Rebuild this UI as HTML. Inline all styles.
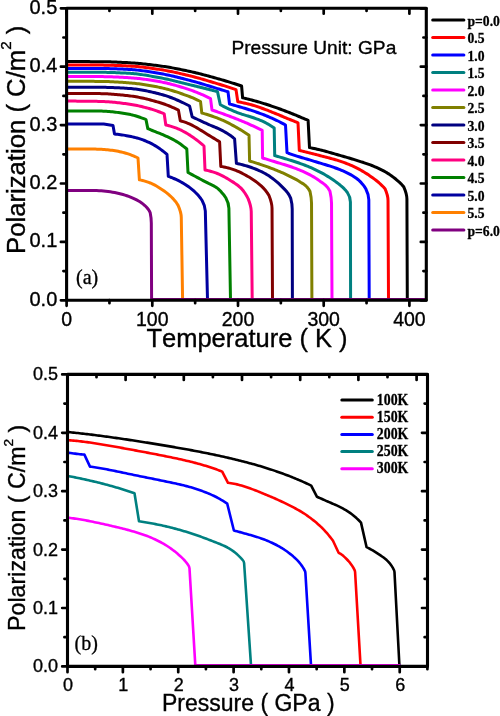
<!DOCTYPE html><html><head><meta charset="utf-8"><style>html,body{margin:0;padding:0;background:#fff;}svg{display:block;}text{font-kerning:none;}</style></head><body>
<svg width="500" height="716" viewBox="0 0 500 716">
<rect width="500" height="716" fill="#fff"/>
<g fill="none" stroke-width="3" stroke-linejoin="round" stroke-linecap="butt">
<path stroke="#000000" d="M66.6 61.6 L68.11 61.6 L69.62 61.6 L71.13 61.6 L72.63 61.6 L74.14 61.6 L75.65 61.6 L77.16 61.6 L78.67 61.6 L80.18 61.61 L81.69 61.61 L83.19 61.61 L84.7 61.61 L86.21 61.62 L87.72 61.62 L89.23 61.62 L90.74 61.63 L92.25 61.63 L93.76 61.63 L95.26 61.64 L96.77 61.64 L98.28 61.65 L99.79 61.65 L101.3 61.66 L102.81 61.67 L104.32 61.7 L105.82 61.73 L107.33 61.76 L108.84 61.8 L110.35 61.85 L111.86 61.9 L113.37 61.96 L114.88 62.02 L116.38 62.08 L117.89 62.15 L119.4 62.23 L120.91 62.3 L122.42 62.38 L123.93 62.46 L125.44 62.54 L126.94 62.62 L128.45 62.7 L129.96 62.79 L131.47 62.88 L132.98 62.98 L134.49 63.08 L136 63.2 L137.51 63.33 L139.01 63.46 L140.52 63.61 L142.03 63.75 L143.54 63.91 L145.05 64.07 L146.56 64.24 L148.07 64.42 L149.57 64.59 L151.08 64.78 L152.59 64.97 L154.1 65.16 L155.61 65.35 L157.12 65.55 L158.63 65.75 L160.13 65.95 L161.64 66.16 L163.15 66.37 L164.66 66.6 L166.17 66.84 L167.68 67.08 L169.19 67.34 L170.69 67.6 L172.2 67.87 L173.71 68.15 L175.22 68.43 L176.73 68.72 L178.24 69.02 L179.75 69.32 L181.26 69.62 L182.76 69.93 L184.27 70.25 L185.78 70.57 L187.29 70.89 L188.8 71.21 L190.31 71.54 L191.82 71.87 L193.32 72.21 L194.83 72.56 L196.34 72.92 L197.85 73.29 L199.36 73.66 L200.87 74.04 L202.38 74.43 L203.88 74.83 L205.39 75.23 L206.9 75.63 L208.41 76.04 L209.92 76.45 L211.43 76.87 L212.94 77.29 L214.44 77.72 L215.95 78.14 L217.46 78.57 L218.97 79 L220.48 79.43 L221.99 79.86 L223.5 80.3 L225.01 80.75 L226.51 81.2 L228.02 81.66 L229.53 82.12 L231.04 82.59 L232.55 83.07 L234.06 83.54 L235.57 84.03 L237.07 84.51 L238.58 85 L240.09 85.5 L241.6 86 L242.6 97.8 L244.12 98.15 L245.65 98.51 L247.17 98.88 L248.69 99.26 L250.22 99.64 L251.74 100.04 L253.26 100.45 L254.79 100.87 L256.31 101.29 L257.83 101.73 L259.36 102.18 L260.88 102.63 L262.4 103.09 L263.93 103.56 L265.45 104.04 L266.97 104.53 L268.5 105.02 L270.02 105.53 L271.54 106.05 L273.07 106.57 L274.59 107.1 L276.11 107.63 L277.63 108.17 L279.16 108.72 L280.68 109.28 L282.2 109.85 L283.73 110.42 L285.25 111 L286.77 111.58 L288.3 112.17 L289.82 112.77 L291.34 113.37 L292.87 113.99 L294.39 114.6 L295.91 115.23 L297.44 115.86 L298.96 116.49 L300.48 117.12 L302.01 117.77 L303.53 118.41 L305.05 119.07 L306.58 119.73 L308.1 120.4 L309.5 147.6 L311.02 147.9 L312.54 148.2 L314.07 148.52 L315.59 148.84 L317.11 149.18 L318.63 149.53 L320.15 149.88 L321.68 150.26 L323.2 150.65 L324.72 151.05 L326.24 151.46 L327.76 151.88 L329.28 152.32 L330.81 152.75 L332.33 153.2 L333.85 153.64 L335.37 154.09 L336.89 154.53 L338.42 154.98 L339.94 155.42 L341.46 155.85 L342.98 156.29 L344.5 156.73 L346.02 157.17 L347.55 157.61 L349.07 158.06 L350.59 158.51 L352.11 158.96 L353.63 159.43 L355.16 159.9 L356.68 160.37 L358.2 160.85 L359.72 161.33 L361.24 161.81 L362.77 162.3 L364.29 162.8 L365.81 163.3 L367.33 163.83 L368.85 164.37 L370.38 164.93 L371.9 165.52 L373.42 166.13 L374.94 166.77 L376.46 167.43 L377.98 168.13 L379.51 168.84 L381.03 169.59 L382.55 170.36 L384.07 171.17 L385.59 172.01 L387.12 172.91 L388.64 173.87 L390.16 174.89 L391.68 175.96 L393.2 177.09 L394.72 178.28 L396.25 179.53 L397.77 180.84 L399.29 182.16 L400.81 183.58 L402.33 185.2 L403.86 187.07 Q406.9 194 406.92 199 L407.3 299.5 L425 299.5"/>
<path stroke="#FF0000" d="M66.6 65.1 L68.11 65.1 L69.62 65.1 L71.14 65.1 L72.65 65.1 L74.16 65.1 L75.67 65.1 L77.19 65.1 L78.7 65.1 L80.21 65.1 L81.72 65.1 L83.24 65.1 L84.75 65.1 L86.26 65.1 L87.77 65.1 L89.29 65.1 L90.8 65.1 L92.31 65.1 L93.82 65.1 L95.34 65.1 L96.85 65.1 L98.36 65.1 L99.88 65.1 L101.39 65.1 L102.9 65.11 L104.41 65.13 L105.92 65.15 L107.44 65.18 L108.95 65.21 L110.46 65.25 L111.97 65.29 L113.49 65.34 L115 65.39 L116.51 65.44 L118.02 65.5 L119.54 65.56 L121.05 65.62 L122.56 65.69 L124.07 65.76 L125.59 65.83 L127.1 65.9 L128.61 65.98 L130.12 66.05 L131.64 66.13 L133.15 66.23 L134.66 66.34 L136.18 66.47 L137.69 66.61 L139.2 66.76 L140.71 66.92 L142.22 67.09 L143.74 67.27 L145.25 67.45 L146.76 67.65 L148.27 67.85 L149.79 68.06 L151.3 68.27 L152.81 68.49 L154.32 68.71 L155.84 68.93 L157.35 69.16 L158.86 69.38 L160.38 69.61 L161.89 69.85 L163.4 70.1 L164.91 70.36 L166.43 70.63 L167.94 70.92 L169.45 71.21 L170.96 71.51 L172.47 71.83 L173.99 72.15 L175.5 72.47 L177.01 72.81 L178.52 73.15 L180.04 73.49 L181.55 73.85 L183.06 74.2 L184.57 74.56 L186.09 74.92 L187.6 75.29 L189.11 75.65 L190.62 76.02 L192.14 76.4 L193.65 76.78 L195.16 77.18 L196.67 77.59 L198.19 78 L199.7 78.42 L201.21 78.85 L202.72 79.28 L204.24 79.72 L205.75 80.17 L207.26 80.62 L208.77 81.07 L210.29 81.53 L211.8 81.99 L213.31 82.45 L214.82 82.91 L216.34 83.37 L217.85 83.83 L219.36 84.29 L220.88 84.75 L222.39 85.22 L223.9 85.69 L225.41 86.16 L226.92 86.64 L228.44 87.13 L229.95 87.62 L231.46 88.11 L232.97 88.6 L234.49 89.1 L236 89.59 L237.8 101.8 L239.31 102.06 L240.81 102.34 L242.31 102.64 L243.82 102.96 L245.33 103.3 L246.83 103.65 L248.34 104.02 L249.84 104.4 L251.34 104.8 L252.85 105.21 L254.36 105.65 L255.86 106.13 L257.37 106.62 L258.87 107.14 L260.38 107.68 L261.88 108.22 L263.38 108.76 L264.89 109.31 L266.39 109.88 L267.9 110.46 L269.41 111.05 L270.91 111.66 L272.42 112.27 L273.92 112.88 L275.43 113.5 L276.93 114.11 L278.44 114.73 L279.94 115.36 L281.44 116 L282.95 116.63 L284.45 117.27 L285.96 117.9 L287.47 118.52 L288.97 119.14 L290.48 119.76 L291.98 120.37 L293.49 120.98 L294.99 121.59 L296.5 122.2 L298 122.8 L299.3 150.4 L300.8 150.76 L302.31 151.13 L303.81 151.49 L305.31 151.86 L306.82 152.24 L308.32 152.61 L309.82 152.99 L311.33 153.37 L312.83 153.75 L314.33 154.14 L315.84 154.53 L317.34 154.92 L318.84 155.31 L320.35 155.71 L321.85 156.1 L323.35 156.49 L324.86 156.88 L326.36 157.26 L327.86 157.65 L329.37 158.05 L330.87 158.45 L332.37 158.86 L333.88 159.28 L335.38 159.71 L336.88 160.16 L338.39 160.63 L339.89 161.11 L341.39 161.62 L342.9 162.14 L344.4 162.69 L345.91 163.25 L347.41 163.84 L348.91 164.45 L350.42 165.08 L351.92 165.73 L353.42 166.41 L354.93 167.11 L356.43 167.83 L357.93 168.59 L359.44 169.39 L360.94 170.22 L362.44 171.09 L363.95 171.99 L365.45 172.92 L366.95 173.88 L368.46 174.87 L369.96 175.89 L371.46 176.93 L372.97 178 L374.47 179.11 L375.97 180.26 L377.48 181.48 L378.98 182.76 L380.48 184.13 L381.99 185.57 L383.49 186.99 L384.99 188.66 Q388 195.5 388.02 200.5 L388.5 299.5 L425 299.5"/>
<path stroke="#0000FF" d="M66.6 68.5 L68.11 68.5 L69.62 68.5 L71.13 68.5 L72.63 68.5 L74.14 68.5 L75.65 68.5 L77.16 68.5 L78.67 68.5 L80.18 68.5 L81.68 68.5 L83.19 68.5 L84.7 68.5 L86.21 68.5 L87.72 68.5 L89.23 68.5 L90.73 68.5 L92.24 68.5 L93.75 68.5 L95.26 68.5 L96.77 68.5 L98.28 68.5 L99.79 68.5 L101.29 68.51 L102.8 68.51 L104.31 68.53 L105.82 68.55 L107.33 68.58 L108.84 68.62 L110.34 68.65 L111.85 68.7 L113.36 68.75 L114.87 68.8 L116.38 68.86 L117.89 68.92 L119.39 68.99 L120.9 69.05 L122.41 69.12 L123.92 69.2 L125.43 69.27 L126.94 69.35 L128.44 69.43 L129.95 69.51 L131.46 69.6 L132.97 69.71 L134.48 69.83 L135.99 69.97 L137.5 70.13 L139 70.29 L140.51 70.47 L142.02 70.67 L143.53 70.87 L145.04 71.08 L146.55 71.3 L148.05 71.53 L149.56 71.77 L151.07 72.01 L152.58 72.26 L154.09 72.51 L155.6 72.76 L157.1 73.01 L158.61 73.27 L160.12 73.52 L161.63 73.79 L163.14 74.06 L164.65 74.35 L166.16 74.66 L167.66 74.97 L169.17 75.3 L170.68 75.63 L172.19 75.97 L173.7 76.33 L175.21 76.69 L176.71 77.05 L178.22 77.43 L179.73 77.8 L181.24 78.19 L182.75 78.57 L184.26 78.96 L185.76 79.35 L187.27 79.74 L188.78 80.14 L190.29 80.53 L191.8 80.93 L193.31 81.34 L194.81 81.75 L196.32 82.18 L197.83 82.61 L199.34 83.05 L200.85 83.49 L202.36 83.94 L203.87 84.4 L205.37 84.86 L206.88 85.32 L208.39 85.78 L209.9 86.25 L211.41 86.71 L212.92 87.18 L214.42 87.64 L215.93 88.11 L217.44 88.57 L218.95 89.03 L220.46 89.49 L221.97 89.94 L223.47 90.4 L224.98 90.87 L226.49 91.33 L228 91.79 L229.5 104 L231.01 104.41 L232.53 104.82 L234.04 105.24 L235.55 105.66 L237.07 106.09 L238.58 106.52 L240.09 106.96 L241.61 107.41 L243.12 107.85 L244.64 108.3 L246.15 108.76 L247.66 109.23 L249.18 109.7 L250.69 110.18 L252.2 110.68 L253.72 111.18 L255.23 111.7 L256.74 112.22 L258.26 112.76 L259.77 113.3 L261.28 113.86 L262.8 114.43 L264.31 115.02 L265.82 115.62 L267.34 116.24 L268.85 116.88 L270.36 117.53 L271.88 118.19 L273.39 118.87 L274.91 119.57 L276.42 120.28 L277.93 121.01 L279.45 121.77 L280.96 122.55 L282.47 123.35 L283.99 124.17 L285.5 125 L287 152.61 L288.51 153.23 L290.03 153.81 L291.54 154.35 L293.06 154.86 L294.57 155.36 L296.09 155.85 L297.6 156.32 L299.12 156.79 L300.63 157.25 L302.15 157.7 L303.66 158.14 L305.18 158.58 L306.69 159.03 L308.21 159.47 L309.72 159.92 L311.24 160.37 L312.75 160.84 L314.27 161.31 L315.78 161.78 L317.3 162.26 L318.81 162.72 L320.33 163.18 L321.84 163.63 L323.36 164.08 L324.87 164.54 L326.39 165 L327.9 165.47 L329.41 165.94 L330.93 166.43 L332.44 166.93 L333.96 167.44 L335.47 167.98 L336.99 168.53 L338.5 169.11 L340.02 169.71 L341.53 170.34 L343.05 170.98 L344.56 171.64 L346.08 172.33 L347.59 173.05 L349.11 173.82 L350.62 174.63 L352.14 175.5 L353.65 176.43 L355.17 177.42 L356.68 178.5 L358.2 179.72 L359.71 181.1 L361.23 182.66 L362.74 184.4 L364.26 186.35 L365.77 188.76 Q368.8 194.8 368.82 199.8 L369.2 299.5 L425 299.5"/>
<path stroke="#008080" d="M66.6 72.31 L68.11 72.31 L69.62 72.31 L71.13 72.31 L72.64 72.31 L74.14 72.31 L75.65 72.31 L77.16 72.31 L78.67 72.31 L80.18 72.31 L81.69 72.31 L83.2 72.31 L84.71 72.31 L86.22 72.31 L87.73 72.31 L89.23 72.31 L90.74 72.31 L92.25 72.31 L93.76 72.31 L95.27 72.31 L96.78 72.31 L98.29 72.31 L99.8 72.31 L101.31 72.31 L102.82 72.32 L104.32 72.33 L105.83 72.36 L107.34 72.39 L108.85 72.42 L110.36 72.46 L111.87 72.51 L113.38 72.56 L114.89 72.61 L116.4 72.67 L117.91 72.74 L119.41 72.81 L120.92 72.88 L122.43 72.95 L123.94 73.03 L125.45 73.11 L126.96 73.19 L128.47 73.27 L129.98 73.36 L131.49 73.45 L133 73.57 L134.5 73.71 L136.01 73.86 L137.52 74.03 L139.03 74.22 L140.54 74.42 L142.05 74.64 L143.56 74.86 L145.07 75.1 L146.58 75.35 L148.09 75.6 L149.59 75.87 L151.1 76.13 L152.61 76.41 L154.12 76.68 L155.63 76.96 L157.14 77.23 L158.65 77.51 L160.16 77.78 L161.67 78.06 L163.18 78.36 L164.69 78.66 L166.19 78.98 L167.7 79.31 L169.21 79.65 L170.72 80 L172.23 80.36 L173.74 80.72 L175.25 81.09 L176.76 81.46 L178.27 81.84 L179.78 82.22 L181.28 82.6 L182.79 82.98 L184.3 83.36 L185.81 83.73 L187.32 84.11 L188.83 84.48 L190.34 84.84 L191.85 85.21 L193.36 85.58 L194.87 85.94 L196.37 86.31 L197.88 86.68 L199.39 87.05 L200.9 87.42 L202.41 87.8 L203.92 88.17 L205.43 88.55 L206.94 88.93 L208.45 89.31 L209.96 89.69 L211.46 90.07 L212.97 90.45 L214.48 90.83 L215.99 91.22 L217.5 91.6 L220.3 104.7 L221.84 105.52 L223.38 106.31 L224.92 107.09 L226.46 107.84 L228 108.57 L229.54 109.28 L231.08 109.98 L232.62 110.65 L234.16 111.29 L235.7 111.92 L237.24 112.53 L238.78 113.11 L240.32 113.67 L241.86 114.2 L243.4 114.68 L244.94 115.14 L246.48 115.58 L248.02 116.03 L249.56 116.49 L251.1 116.98 L252.64 117.5 L254.18 118.03 L255.72 118.58 L257.26 119.14 L258.8 119.72 L260.34 120.33 L261.88 120.98 L263.42 121.67 L264.96 122.41 L266.5 123.21 L268.04 124.07 L269.58 124.98 L271.12 125.95 L272.66 126.96 L274.2 128 L274.7 155.6 L276.21 156.04 L277.73 156.48 L279.24 156.92 L280.76 157.36 L282.27 157.8 L283.78 158.24 L285.3 158.69 L286.81 159.14 L288.33 159.59 L289.84 160.07 L291.35 160.55 L292.87 161.03 L294.38 161.52 L295.9 162.02 L297.41 162.53 L298.92 163.04 L300.44 163.57 L301.95 164.12 L303.47 164.68 L304.98 165.26 L306.49 165.85 L308.01 166.47 L309.52 167.1 L311.04 167.74 L312.55 168.41 L314.06 169.1 L315.58 169.81 L317.09 170.54 L318.61 171.29 L320.12 172.06 L321.63 172.86 L323.15 173.69 L324.66 174.55 L326.18 175.43 L327.69 176.35 L329.2 177.29 L330.72 178.27 L332.23 179.27 L333.75 180.31 L335.26 181.39 L336.77 182.48 L338.29 183.62 L339.8 184.8 L341.32 186.07 L342.83 187.43 L344.34 188.91 L345.86 190.57 L347.37 192.52 Q350.4 197 350.41 202 L350.6 299.5 L425 299.5"/>
<path stroke="#FF00FF" d="M66.6 76.6 L68.11 76.6 L69.63 76.6 L71.14 76.6 L72.66 76.6 L74.17 76.6 L75.69 76.6 L77.2 76.6 L78.72 76.6 L80.23 76.6 L81.75 76.6 L83.26 76.6 L84.78 76.6 L86.29 76.6 L87.81 76.6 L89.32 76.6 L90.84 76.6 L92.35 76.6 L93.87 76.6 L95.38 76.6 L96.89 76.6 L98.41 76.6 L99.92 76.6 L101.44 76.6 L102.95 76.62 L104.47 76.64 L105.98 76.66 L107.5 76.7 L109.01 76.74 L110.53 76.79 L112.04 76.84 L113.56 76.9 L115.07 76.97 L116.59 77.04 L118.1 77.11 L119.62 77.19 L121.13 77.27 L122.65 77.35 L124.16 77.44 L125.67 77.52 L127.19 77.61 L128.7 77.7 L130.22 77.8 L131.73 77.9 L133.25 78.01 L134.76 78.14 L136.28 78.29 L137.79 78.44 L139.31 78.61 L140.82 78.78 L142.34 78.97 L143.85 79.17 L145.37 79.38 L146.88 79.59 L148.4 79.82 L149.91 80.05 L151.43 80.29 L152.94 80.53 L154.45 80.78 L155.97 81.04 L157.48 81.3 L159 81.57 L160.51 81.84 L162.03 82.12 L163.54 82.42 L165.06 82.74 L166.57 83.08 L168.09 83.43 L169.6 83.8 L171.12 84.18 L172.63 84.58 L174.15 84.99 L175.66 85.41 L177.18 85.84 L178.69 86.29 L180.21 86.74 L181.72 87.2 L183.23 87.68 L184.75 88.16 L186.26 88.65 L187.78 89.14 L189.29 89.64 L190.81 90.15 L192.32 90.68 L193.84 91.24 L195.35 91.81 L196.87 92.41 L198.38 93.03 L199.9 93.66 L201.41 94.31 L202.93 94.98 L204.44 95.66 L205.96 96.35 L207.47 97.06 L208.99 97.77 L210.5 98.5 L212 110 L213.52 110.51 L215.04 111.02 L216.56 111.54 L218.08 112.07 L219.61 112.61 L221.13 113.15 L222.65 113.7 L224.17 114.25 L225.69 114.81 L227.21 115.37 L228.73 115.93 L230.25 116.5 L231.78 117.07 L233.3 117.65 L234.82 118.24 L236.34 118.84 L237.86 119.44 L239.38 120.05 L240.9 120.66 L242.42 121.29 L243.95 121.93 L245.47 122.58 L246.99 123.24 L248.51 123.91 L250.03 124.59 L251.55 125.28 L253.07 125.97 L254.59 126.68 L256.12 127.4 L257.64 128.14 L259.16 128.88 L260.68 129.63 L262.2 130.4 L262.6 158 L264.13 158.47 L265.66 158.93 L267.19 159.4 L268.72 159.87 L270.26 160.34 L271.79 160.81 L273.32 161.28 L274.85 161.76 L276.38 162.23 L277.91 162.7 L279.44 163.17 L280.97 163.64 L282.5 164.11 L284.04 164.56 L285.57 165.03 L287.1 165.5 L288.63 165.99 L290.16 166.51 L291.69 167.04 L293.22 167.59 L294.75 168.14 L296.28 168.71 L297.82 169.3 L299.35 169.91 L300.88 170.54 L302.41 171.2 L303.94 171.89 L305.47 172.6 L307 173.34 L308.53 174.11 L310.06 174.91 L311.6 175.74 L313.13 176.61 L314.66 177.54 L316.19 178.51 L317.72 179.54 L319.25 180.64 L320.78 181.77 L322.31 182.82 L323.84 183.89 L325.38 185.13 L326.91 186.69 L328.44 188.71 L329.97 191.34 Q331.5 198 331.52 203 L332 299.5 L425 299.5"/>
<path stroke="#808000" d="M66.6 81.3 L68.1 81.3 L69.61 81.3 L71.11 81.3 L72.62 81.3 L74.12 81.3 L75.63 81.31 L77.13 81.31 L78.64 81.31 L80.14 81.32 L81.64 81.32 L83.15 81.33 L84.65 81.33 L86.16 81.34 L87.66 81.34 L89.17 81.35 L90.67 81.36 L92.18 81.37 L93.68 81.37 L95.19 81.38 L96.69 81.39 L98.19 81.4 L99.7 81.41 L101.2 81.42 L102.71 81.44 L104.21 81.47 L105.72 81.51 L107.22 81.56 L108.73 81.61 L110.23 81.67 L111.73 81.74 L113.24 81.81 L114.74 81.89 L116.25 81.98 L117.75 82.06 L119.26 82.16 L120.76 82.26 L122.27 82.36 L123.77 82.46 L125.28 82.57 L126.78 82.68 L128.28 82.79 L129.79 82.9 L131.29 83.02 L132.8 83.15 L134.3 83.3 L135.81 83.46 L137.31 83.64 L138.82 83.82 L140.32 84.02 L141.82 84.23 L143.33 84.45 L144.83 84.68 L146.34 84.92 L147.84 85.18 L149.35 85.43 L150.85 85.7 L152.36 85.98 L153.86 86.26 L155.37 86.55 L156.87 86.84 L158.37 87.14 L159.88 87.44 L161.38 87.76 L162.89 88.1 L164.39 88.45 L165.9 88.83 L167.4 89.23 L168.91 89.64 L170.41 90.07 L171.91 90.51 L173.42 90.97 L174.92 91.45 L176.43 91.94 L177.93 92.44 L179.44 92.95 L180.94 93.47 L182.45 94 L183.95 94.54 L185.46 95.09 L186.96 95.65 L188.46 96.21 L189.97 96.77 L191.47 97.36 L192.98 97.99 L194.48 98.65 L195.99 99.34 L197.49 100.05 L199 100.77 L200.5 101.5 L201.8 113 L203.32 113.39 L204.85 113.82 L206.37 114.26 L207.89 114.73 L209.41 115.22 L210.94 115.73 L212.46 116.26 L213.98 116.81 L215.5 117.37 L217.03 117.96 L218.55 118.56 L220.07 119.17 L221.59 119.81 L223.12 120.48 L224.64 121.18 L226.16 121.91 L227.68 122.66 L229.21 123.44 L230.73 124.24 L232.25 125.06 L233.77 125.9 L235.3 126.75 L236.82 127.62 L238.34 128.5 L239.86 129.39 L241.39 130.3 L242.91 131.2 L244.43 132.15 L245.95 133.14 L247.48 134.17 L249 135.22 L249.6 161 L251.11 161.45 L252.62 161.9 L254.13 162.37 L255.64 162.84 L257.15 163.31 L258.66 163.79 L260.17 164.3 L261.68 164.81 L263.19 165.33 L264.7 165.86 L266.21 166.4 L267.72 166.94 L269.23 167.5 L270.74 168.06 L272.25 168.63 L273.76 169.21 L275.27 169.8 L276.78 170.41 L278.29 171.02 L279.8 171.65 L281.3 172.29 L282.81 172.95 L284.32 173.64 L285.83 174.35 L287.34 175.07 L288.85 175.81 L290.36 176.56 L291.87 177.3 L293.38 178.03 L294.89 178.79 L296.4 179.59 L297.91 180.45 L299.42 181.4 L300.93 182.41 L302.44 183.36 L303.95 184.34 L305.46 185.5 L306.97 186.98 L308.48 188.89 L309.99 191.38 Q311.5 198 311.52 203 L311.9 299.5 L425 299.5"/>
<path stroke="#000080" d="M66.6 87.3 L68.1 87.3 L69.6 87.3 L71.1 87.3 L72.6 87.3 L74.1 87.3 L75.6 87.3 L77.1 87.3 L78.6 87.3 L80.1 87.3 L81.6 87.3 L83.1 87.3 L84.6 87.3 L86.1 87.3 L87.6 87.3 L89.1 87.3 L90.6 87.3 L92.1 87.3 L93.6 87.3 L95.1 87.3 L96.6 87.3 L98.1 87.3 L99.6 87.3 L101.1 87.31 L102.6 87.32 L104.1 87.33 L105.6 87.36 L107.1 87.39 L108.6 87.43 L110.1 87.48 L111.6 87.53 L113.1 87.58 L114.6 87.65 L116.1 87.71 L117.6 87.79 L119.1 87.86 L120.6 87.94 L122.1 88.03 L123.6 88.12 L125.1 88.21 L126.6 88.3 L128.1 88.4 L129.6 88.5 L131.1 88.61 L132.6 88.73 L134.1 88.89 L135.6 89.06 L137.1 89.26 L138.6 89.47 L140.1 89.71 L141.6 89.96 L143.1 90.23 L144.6 90.51 L146.1 90.81 L147.6 91.12 L149.1 91.44 L150.6 91.77 L152.1 92.12 L153.6 92.47 L155.1 92.83 L156.6 93.2 L158.1 93.57 L159.6 93.95 L161.1 94.33 L162.6 94.75 L164.1 95.19 L165.6 95.66 L167.1 96.15 L168.6 96.67 L170.1 97.22 L171.6 97.78 L173.1 98.37 L174.6 98.98 L176.1 99.61 L177.6 100.25 L179.1 100.92 L180.6 101.6 L182.1 102.3 L183.6 103.01 L185.1 103.74 L186.6 104.48 L188.1 105.24 L189.6 106 L192.2 116.8 L193.71 117.54 L195.23 118.28 L196.74 119 L198.26 119.73 L199.77 120.44 L201.29 121.15 L202.8 121.85 L204.31 122.54 L205.83 123.23 L207.34 123.91 L208.86 124.59 L210.37 125.25 L211.89 125.88 L213.4 126.5 L214.91 127.11 L216.43 127.74 L217.94 128.4 L219.46 129.11 L220.97 129.88 L222.49 130.68 L224 131.52 L225.51 132.4 L227.03 133.32 L228.54 134.28 L230.06 135.29 L231.57 136.35 L233.09 137.54 L234.6 138.81 L236.4 163.4 L237.91 163.7 L239.42 164.04 L240.92 164.39 L242.43 164.78 L243.94 165.18 L245.45 165.61 L246.96 166.06 L248.46 166.53 L249.97 167.02 L251.48 167.54 L252.99 168.08 L254.5 168.66 L256.01 169.26 L257.51 169.89 L259.02 170.55 L260.53 171.25 L262.04 171.97 L263.55 172.73 L265.05 173.53 L266.56 174.41 L268.07 175.35 L269.58 176.35 L271.09 177.41 L272.59 178.52 L274.1 179.67 L275.61 180.86 L277.12 182.1 L278.63 183.44 L280.14 184.86 L281.64 186.35 L283.15 187.88 L284.66 189.38 L286.17 190.99 L287.68 192.88 L289.18 195.17 L290.69 198.23 Q292.2 204 292.21 209 L292.4 299.5 L425 299.5"/>
<path stroke="#800000" d="M66.6 93.39 L68.11 93.39 L69.62 93.39 L71.13 93.4 L72.64 93.4 L74.15 93.4 L75.66 93.41 L77.18 93.42 L78.69 93.42 L80.2 93.43 L81.71 93.44 L83.22 93.45 L84.73 93.46 L86.24 93.47 L87.75 93.48 L89.26 93.5 L90.77 93.51 L92.28 93.53 L93.79 93.54 L95.31 93.56 L96.82 93.57 L98.33 93.59 L99.84 93.61 L101.35 93.63 L102.86 93.67 L104.37 93.72 L105.88 93.78 L107.39 93.86 L108.9 93.94 L110.41 94.04 L111.92 94.14 L113.44 94.26 L114.95 94.38 L116.46 94.51 L117.97 94.65 L119.48 94.79 L120.99 94.94 L122.5 95.1 L124.01 95.26 L125.52 95.42 L127.03 95.59 L128.54 95.76 L130.05 95.93 L131.56 96.12 L133.08 96.32 L134.59 96.55 L136.1 96.8 L137.61 97.07 L139.12 97.36 L140.63 97.66 L142.14 97.98 L143.65 98.31 L145.16 98.66 L146.67 99.03 L148.18 99.4 L149.69 99.79 L151.21 100.19 L152.72 100.6 L154.23 101.01 L155.74 101.44 L157.25 101.87 L158.76 102.31 L160.27 102.75 L161.78 103.22 L163.29 103.72 L164.8 104.25 L166.31 104.81 L167.82 105.39 L169.34 106 L170.85 106.63 L172.36 107.28 L173.87 107.94 L175.38 108.62 L176.89 109.31 L178.4 110.01 L180.3 120.8 L181.81 121.2 L183.32 121.65 L184.83 122.15 L186.35 122.7 L187.86 123.28 L189.37 123.92 L190.88 124.63 L192.39 125.4 L193.9 126.21 L195.42 127.06 L196.93 127.92 L198.44 128.79 L199.95 129.68 L201.46 130.61 L202.97 131.57 L204.48 132.54 L206 133.5 L207.51 134.44 L209.02 135.37 L210.53 136.3 L212.04 137.23 L213.55 138.15 L215.07 139.07 L216.58 139.98 L218.09 140.89 L219.6 141.8 L220.8 166.41 L222.31 166.64 L223.81 166.92 L225.32 167.24 L226.82 167.6 L228.33 167.99 L229.84 168.41 L231.34 168.85 L232.85 169.32 L234.35 169.85 L235.86 170.43 L237.36 171.05 L238.87 171.73 L240.38 172.44 L241.88 173.19 L243.39 173.97 L244.89 174.78 L246.4 175.61 L247.91 176.46 L249.41 177.32 L250.92 178.23 L252.42 179.18 L253.93 180.18 L255.44 181.24 L256.94 182.36 L258.45 183.56 L259.95 184.84 L261.46 186.2 L262.96 187.64 L264.47 189.23 L265.98 191.02 L267.48 193.1 L268.99 195.53 Q272 203.2 272.03 208.2 L272.5 299.5 L425 299.5"/>
<path stroke="#FF0080" d="M66.6 101.09 L68.1 101.09 L69.6 101.09 L71.1 101.1 L72.61 101.1 L74.11 101.11 L75.61 101.12 L77.11 101.13 L78.61 101.14 L80.11 101.15 L81.62 101.17 L83.12 101.18 L84.62 101.2 L86.12 101.21 L87.62 101.23 L89.12 101.25 L90.62 101.27 L92.13 101.3 L93.63 101.32 L95.13 101.34 L96.63 101.37 L98.13 101.39 L99.63 101.42 L101.14 101.45 L102.64 101.5 L104.14 101.56 L105.64 101.64 L107.14 101.73 L108.64 101.83 L110.14 101.95 L111.65 102.07 L113.15 102.21 L114.65 102.36 L116.15 102.51 L117.65 102.68 L119.15 102.85 L120.66 103.02 L122.16 103.21 L123.66 103.4 L125.16 103.59 L126.66 103.79 L128.16 103.99 L129.66 104.2 L131.17 104.41 L132.67 104.65 L134.17 104.92 L135.67 105.21 L137.17 105.52 L138.67 105.85 L140.18 106.2 L141.68 106.56 L143.18 106.94 L144.68 107.33 L146.18 107.73 L147.68 108.14 L149.18 108.56 L150.69 108.98 L152.19 109.43 L153.69 109.91 L155.19 110.41 L156.69 110.93 L158.19 111.47 L159.7 112.03 L161.2 112.61 L162.7 113.2 L164.2 113.81 L165.8 125 L167.33 125.33 L168.86 125.71 L170.38 126.14 L171.91 126.6 L173.44 127.1 L174.97 127.63 L176.5 128.19 L178.02 128.8 L179.55 129.48 L181.08 130.21 L182.61 130.99 L184.14 131.8 L185.66 132.65 L187.19 133.52 L188.72 134.43 L190.25 135.39 L191.78 136.41 L193.3 137.47 L194.83 138.59 L196.36 139.73 L197.89 140.9 L199.42 142.09 L200.94 143.34 L202.47 144.65 L204 146 L205 170.01 L206.54 170.3 L208.08 170.63 L209.62 171.02 L211.16 171.45 L212.7 171.91 L214.24 172.41 L215.78 172.94 L217.32 173.51 L218.86 174.14 L220.4 174.84 L221.94 175.58 L223.48 176.38 L225.02 177.23 L226.56 178.11 L228.1 179.02 L229.64 179.96 L231.18 180.92 L232.72 181.89 L234.26 182.88 L235.8 183.92 L237.34 185.03 L238.88 186.26 L240.42 187.63 L241.96 189.18 L243.5 191.04 L245.04 193.25 L246.58 195.79 L248.12 198.64 Q251.2 206.4 251.25 211.4 L252.2 299.5 L425 299.5"/>
<path stroke="#008000" d="M66.6 111.1 L68.13 111.1 L69.65 111.1 L71.18 111.1 L72.71 111.1 L74.23 111.1 L75.76 111.1 L77.29 111.1 L78.82 111.1 L80.34 111.1 L81.87 111.1 L83.4 111.1 L84.92 111.1 L86.45 111.1 L87.98 111.1 L89.5 111.1 L91.03 111.1 L92.56 111.1 L94.08 111.1 L95.61 111.1 L97.14 111.1 L98.67 111.1 L100.19 111.1 L101.72 111.12 L103.25 111.16 L104.77 111.22 L106.3 111.3 L107.83 111.41 L109.35 111.53 L110.88 111.67 L112.41 111.83 L113.93 112 L115.46 112.18 L116.99 112.38 L118.52 112.6 L120.04 112.82 L121.57 113.05 L123.1 113.29 L124.62 113.54 L126.15 113.79 L127.68 114.05 L129.2 114.31 L130.73 114.59 L132.26 114.93 L133.78 115.33 L135.31 115.79 L136.84 116.27 L138.37 116.78 L139.89 117.29 L141.42 117.81 L142.95 118.38 L144.47 118.97 L146 119.6 L147.8 128.6 L149.3 129.24 L150.8 129.87 L152.3 130.49 L153.8 131.1 L155.3 131.7 L156.8 132.28 L158.3 132.87 L159.8 133.46 L161.3 134.07 L162.8 134.7 L164.3 135.36 L165.8 136.03 L167.3 136.71 L168.8 137.41 L170.3 138.13 L171.8 138.88 L173.3 139.67 L174.8 140.49 L176.3 141.36 L177.8 142.3 L179.3 143.29 L180.8 144.34 L182.3 145.44 L183.8 146.58 L185.3 147.77 L186.8 149 L188 172.4 L189.51 173.24 L191.02 174.07 L192.53 174.9 L194.04 175.73 L195.56 176.55 L197.07 177.36 L198.58 178.17 L200.09 178.98 L201.6 179.78 L203.11 180.58 L204.62 181.37 L206.13 182.16 L207.64 182.95 L209.16 183.72 L210.67 184.42 L212.18 185.11 L213.69 185.85 L215.2 186.69 L216.71 187.7 L218.22 188.92 L219.73 190.33 L221.24 191.91 L222.76 193.66 L224.27 195.55 L225.78 197.78 Q228.8 203.2 228.89 208.2 L230.5 299.5 L425 299.5"/>
<path stroke="#0000A0" d="M66.6 123.9 L68.15 123.9 L69.69 123.9 L71.24 123.9 L72.79 123.9 L74.33 123.9 L75.88 123.9 L77.43 123.9 L78.97 123.9 L80.52 123.9 L82.07 123.9 L83.61 123.9 L85.16 123.9 L86.71 123.9 L88.25 123.9 L89.8 123.9 L91.35 123.9 L92.89 123.9 L94.44 123.9 L95.99 123.9 L97.53 123.9 L99.08 123.9 L100.63 123.91 L102.17 123.98 L103.72 124.11 L105.27 124.3 L106.81 124.53 L108.36 124.78 L109.91 125.06 L111.45 125.33 L113 125.6 L114.5 134 L116 134.14 L117.5 134.3 L119 134.48 L120.5 134.68 L122 134.9 L123.5 135.14 L125 135.39 L126.5 135.66 L128 135.93 L129.5 136.21 L131 136.51 L132.5 136.84 L134 137.19 L135.5 137.58 L137 137.99 L138.5 138.43 L140 138.9 L141.5 139.39 L143 139.93 L144.5 140.51 L146 141.12 L147.5 141.77 L149 142.46 L150.5 143.18 L152 143.93 L153.5 144.74 L155 145.61 L156.5 146.54 L158 147.53 L159.5 148.56 L161 149.63 L162.5 150.74 L164 151.87 L165.5 153.09 L167 154.4 L168.3 176.4 L169.84 176.92 L171.38 177.48 L172.91 178.09 L174.45 178.75 L175.99 179.44 L177.53 180.17 L179.06 180.93 L180.6 181.74 L182.14 182.6 L183.68 183.5 L185.21 184.45 L186.75 185.46 L188.29 186.53 L189.82 187.65 L191.36 188.84 L192.9 190.11 L194.44 191.48 L195.97 192.96 L197.51 194.57 L199.05 196.33 L200.59 198.24 L202.12 200.52 Q205.2 206 205.32 211 L207.5 299.5 L425 299.5"/>
<path stroke="#FF8000" d="M66.6 149 L68.12 149 L69.64 149 L71.16 149 L72.68 149 L74.2 149 L75.71 149 L77.23 149 L78.75 149 L80.27 149 L81.79 149 L83.31 149 L84.83 149 L86.35 149 L87.87 149 L89.39 149 L90.91 149 L92.43 149.02 L93.94 149.06 L95.46 149.1 L96.98 149.16 L98.5 149.22 L100.02 149.29 L101.54 149.37 L103.06 149.45 L104.58 149.55 L106.1 149.68 L107.62 149.83 L109.14 149.99 L110.66 150.17 L112.17 150.36 L113.69 150.57 L115.21 150.79 L116.73 151.05 L118.25 151.34 L119.77 151.66 L121.29 152.01 L122.81 152.39 L124.33 152.78 L125.85 153.19 L127.37 153.64 L128.89 154.14 L130.4 154.69 L131.92 155.28 L133.44 155.89 L134.96 156.54 L136.48 157.25 L138 158 L139.4 179.8 L140.95 180.1 L142.5 180.46 L144.04 180.88 L145.59 181.35 L147.14 181.86 L148.69 182.41 L150.24 182.99 L151.79 183.64 L153.33 184.37 L154.88 185.17 L156.43 186.04 L157.98 186.96 L159.53 187.92 L161.07 188.91 L162.62 189.93 L164.17 191 L165.72 192.13 L167.27 193.33 L168.81 194.62 L170.36 196.01 L171.91 197.51 L173.46 199.12 L175.01 200.92 L176.56 202.97 L178.1 205.37 Q181.2 212.4 181.28 217.4 L182.6 299.5 L425 299.5"/>
<path stroke="#800080" d="M66.6 190.5 L92 190.5 L94.33 190.52 L96.65 190.58 L98.97 190.69 L101.28 190.84 L103.57 191.03 L105.84 191.26 L108.1 191.53 L110.32 191.85 L112.52 192.2 L114.69 192.59 L116.83 193.03 L118.92 193.5 L120.98 194.01 L122.98 194.55 L124.95 195.13 L126.86 195.75 L128.71 196.4 L130.51 197.09 L132.25 197.81 L133.93 198.55 L135.55 199.33 L137.09 200.14 L138.57 200.97 L139.97 201.84 L141.31 202.72 L142.56 203.63 L143.74 204.56 L144.84 205.52 L145.85 206.49 L146.79 207.48 L147.63 208.48 L148.4 209.5 L149.07 210.54 L149.66 211.58 L150.16 212.64 Q151.3 218 151.32 223 L151.6 299.5 L425 299.5"/>
</g>
<g fill="none" stroke-width="2.6" stroke-linejoin="round" stroke-linecap="butt">
<path stroke="#000000" d="M67.4 431.99 L68.9 432.13 L70.41 432.28 L71.91 432.44 L73.42 432.6 L74.92 432.76 L76.43 432.92 L77.93 433.08 L79.44 433.25 L80.94 433.42 L82.45 433.59 L83.95 433.76 L85.46 433.93 L86.96 434.11 L88.47 434.29 L89.97 434.48 L91.48 434.66 L92.98 434.85 L94.49 435.04 L95.99 435.23 L97.5 435.43 L99 435.62 L100.51 435.82 L102.01 436.02 L103.52 436.22 L105.02 436.42 L106.53 436.62 L108.03 436.83 L109.54 437.04 L111.04 437.25 L112.55 437.46 L114.05 437.67 L115.56 437.88 L117.06 438.1 L118.57 438.31 L120.07 438.53 L121.58 438.75 L123.08 438.97 L124.59 439.19 L126.09 439.41 L127.6 439.64 L129.1 439.86 L130.61 440.09 L132.11 440.32 L133.62 440.54 L135.12 440.77 L136.63 441 L138.13 441.24 L139.64 441.47 L141.14 441.7 L142.65 441.94 L144.15 442.17 L145.66 442.41 L147.16 442.65 L148.67 442.89 L150.17 443.13 L151.68 443.37 L153.18 443.62 L154.69 443.86 L156.19 444.11 L157.7 444.35 L159.2 444.6 L160.71 444.85 L162.21 445.1 L163.72 445.35 L165.22 445.6 L166.73 445.86 L168.23 446.11 L169.74 446.37 L171.24 446.63 L172.75 446.89 L174.25 447.15 L175.76 447.41 L177.26 447.67 L178.77 447.94 L180.27 448.21 L181.78 448.47 L183.28 448.75 L184.79 449.02 L186.29 449.29 L187.8 449.57 L189.3 449.84 L190.8 450.12 L192.31 450.4 L193.81 450.68 L195.32 450.97 L196.82 451.25 L198.33 451.54 L199.83 451.84 L201.34 452.13 L202.84 452.42 L204.35 452.72 L205.85 453.02 L207.36 453.32 L208.86 453.63 L210.37 453.94 L211.87 454.25 L213.38 454.56 L214.88 454.88 L216.39 455.2 L217.89 455.52 L219.4 455.84 L220.9 456.17 L222.41 456.5 L223.91 456.84 L225.42 457.18 L226.92 457.52 L228.43 457.86 L229.93 458.21 L231.44 458.57 L232.94 458.92 L234.45 459.28 L235.95 459.65 L237.46 460.02 L238.96 460.39 L240.47 460.76 L241.97 461.15 L243.48 461.53 L244.98 461.92 L246.49 462.32 L247.99 462.72 L249.5 463.13 L251 463.54 L252.51 463.95 L254.01 464.37 L255.52 464.8 L257.02 465.23 L258.53 465.67 L260.03 466.11 L261.54 466.56 L263.04 467.02 L264.55 467.48 L266.05 467.94 L267.56 468.42 L269.06 468.9 L270.57 469.39 L272.07 469.88 L273.58 470.38 L275.08 470.89 L276.59 471.41 L278.09 471.93 L279.6 472.46 L281.1 473 L282.61 473.54 L284.11 474.1 L285.62 474.66 L287.12 475.24 L288.63 475.81 L290.13 476.4 L291.64 477 L293.14 477.6 L294.65 478.21 L296.15 478.83 L297.66 479.46 L299.16 480.1 L300.67 480.76 L302.17 481.42 L303.68 482.09 L305.18 482.77 L306.69 483.46 L308.19 484.16 L309.7 484.88 L311.2 485.6 L317 496.8 L318.52 497.47 L320.03 498.14 L321.55 498.81 L323.07 499.48 L324.59 500.15 L326.1 500.82 L327.62 501.49 L329.14 502.16 L330.66 502.81 L332.17 503.45 L333.69 504.08 L335.21 504.73 L336.72 505.39 L338.24 506.09 L339.76 506.83 L341.28 507.61 L342.79 508.44 L344.31 509.29 L345.83 510.19 L347.34 511.13 L348.86 512.12 L350.38 513.16 L351.9 514.25 L353.41 515.43 L354.93 516.71 L356.45 518.07 L357.97 519.52 L359.48 521.03 L361 522.6 L366.6 547.2 L368.14 547.94 L369.69 548.74 L371.23 549.58 L372.78 550.46 L374.32 551.38 L375.87 552.35 L377.41 553.34 L378.96 554.36 L380.5 555.39 L382.04 556.45 L383.59 557.57 L385.13 558.78 L386.68 560.11 L388.22 561.59 L389.77 563.29 L391.31 565.41 L392.86 567.86 Q394.4 570.5 394.48 572 L399.4 665.2 L400.5 665.2"/>
<path stroke="#FF0000" d="M67.4 440.1 L68.9 440.21 L70.41 440.33 L71.91 440.46 L73.41 440.6 L74.91 440.75 L76.42 440.9 L77.92 441.07 L79.42 441.23 L80.93 441.41 L82.43 441.59 L83.93 441.77 L85.43 441.96 L86.94 442.15 L88.44 442.35 L89.94 442.56 L91.45 442.78 L92.95 443.01 L94.45 443.24 L95.96 443.48 L97.46 443.72 L98.96 443.96 L100.46 444.2 L101.97 444.44 L103.47 444.69 L104.97 444.94 L106.48 445.19 L107.98 445.45 L109.48 445.71 L110.98 445.98 L112.49 446.24 L113.99 446.51 L115.49 446.78 L117 447.05 L118.5 447.32 L120 447.59 L121.5 447.86 L123.01 448.13 L124.51 448.41 L126.01 448.68 L127.52 448.96 L129.02 449.24 L130.52 449.51 L132.03 449.79 L133.53 450.07 L135.03 450.35 L136.53 450.63 L138.04 450.91 L139.54 451.19 L141.04 451.47 L142.55 451.76 L144.05 452.04 L145.55 452.32 L147.05 452.61 L148.56 452.89 L150.06 453.18 L151.56 453.47 L153.07 453.76 L154.57 454.04 L156.07 454.33 L157.57 454.62 L159.08 454.92 L160.58 455.21 L162.08 455.51 L163.59 455.81 L165.09 456.11 L166.59 456.41 L168.1 456.72 L169.6 457.03 L171.1 457.34 L172.6 457.65 L174.11 457.96 L175.61 458.28 L177.11 458.6 L178.62 458.93 L180.12 459.26 L181.62 459.6 L183.12 459.95 L184.63 460.29 L186.13 460.65 L187.63 461 L189.14 461.36 L190.64 461.73 L192.14 462.11 L193.64 462.49 L195.15 462.88 L196.65 463.28 L198.15 463.68 L199.66 464.1 L201.16 464.53 L202.66 464.96 L204.17 465.41 L205.67 465.86 L207.17 466.32 L208.67 466.8 L210.18 467.28 L211.68 467.77 L213.18 468.27 L214.69 468.78 L216.19 469.31 L217.69 469.86 L219.19 470.43 L220.7 471.01 L222.2 471.6 L228 482.81 L229.5 483.01 L231 483.23 L232.5 483.48 L234 483.76 L235.5 484.06 L237 484.38 L238.5 484.75 L240 485.15 L241.5 485.58 L243 486.04 L244.5 486.52 L246 487.02 L247.5 487.53 L249 488.06 L250.5 488.58 L252 489.11 L253.5 489.64 L255 490.2 L256.5 490.77 L258 491.36 L259.5 491.96 L261 492.58 L262.5 493.2 L264 493.83 L265.5 494.46 L267 495.1 L268.5 495.73 L270 496.37 L271.5 497.01 L273 497.66 L274.5 498.31 L276 498.97 L277.5 499.64 L279 500.32 L280.5 501.01 L282 501.71 L283.5 502.42 L285 503.14 L286.5 503.87 L288 504.61 L289.5 505.35 L291 506.11 L292.5 506.89 L294 507.68 L295.5 508.48 L297 509.3 L298.5 510.14 L300 511 L301.5 511.88 L303 512.8 L304.5 513.77 L306 514.79 L307.5 515.85 L309 516.93 L310.5 518.04 L312 519.19 L313.5 520.37 L315 521.59 L316.5 522.85 L318 524.14 L319.5 525.47 L321 526.85 L322.5 528.3 L324 529.87 L325.5 531.51 L327 533.22 L328.5 534.99 L330 536.85 L331.5 538.78 L333 540.79 L338.6 552.8 L340.24 553.66 L341.88 554.77 L343.52 556.09 L345.16 557.59 L346.8 559.24 L348.44 560.99 L350.08 562.89 L351.72 565.17 L353.36 567.74 Q355 570.5 355.09 572 L360.5 665.2 L400.5 665.2"/>
<path stroke="#0000FF" d="M67.4 452.6 L68.95 452.85 L70.49 453.07 L72.04 453.27 L73.58 453.47 L75.13 453.66 L76.67 453.85 L78.22 454.02 L79.76 454.19 L81.31 454.34 L82.85 454.48 L84.4 454.6 L90 466.6 L91.51 466.82 L93.02 467.03 L94.52 467.26 L96.03 467.49 L97.54 467.73 L99.05 467.98 L100.55 468.23 L102.06 468.49 L103.57 468.76 L105.08 469.04 L106.58 469.32 L108.09 469.62 L109.6 469.92 L111.11 470.22 L112.62 470.52 L114.12 470.82 L115.63 471.13 L117.14 471.44 L118.65 471.75 L120.15 472.07 L121.66 472.38 L123.17 472.7 L124.68 473.02 L126.18 473.33 L127.69 473.65 L129.2 473.96 L130.71 474.27 L132.22 474.59 L133.72 474.9 L135.23 475.21 L136.74 475.53 L138.25 475.84 L139.75 476.15 L141.26 476.46 L142.77 476.77 L144.28 477.08 L145.78 477.38 L147.29 477.69 L148.8 477.99 L150.31 478.28 L151.82 478.58 L153.32 478.88 L154.83 479.19 L156.34 479.49 L157.85 479.81 L159.35 480.12 L160.86 480.44 L162.37 480.75 L163.88 481.06 L165.38 481.37 L166.89 481.68 L168.4 481.99 L169.91 482.31 L171.42 482.62 L172.92 482.94 L174.43 483.27 L175.94 483.59 L177.45 483.93 L178.95 484.27 L180.46 484.62 L181.97 484.98 L183.48 485.35 L184.98 485.73 L186.49 486.12 L188 486.52 L189.51 486.94 L191.02 487.37 L192.52 487.82 L194.03 488.28 L195.54 488.75 L197.05 489.24 L198.55 489.75 L200.06 490.28 L201.57 490.82 L203.08 491.38 L204.58 491.95 L206.09 492.54 L207.6 493.15 L209.11 493.78 L210.62 494.42 L212.12 495.09 L213.63 495.77 L215.14 496.48 L216.65 497.24 L218.15 498.05 L219.66 498.9 L221.17 499.79 L222.68 500.71 L224.18 501.65 L225.69 502.62 L227.2 503.6 L233.9 530.5 L235.42 530.9 L236.94 531.3 L238.46 531.71 L239.98 532.12 L241.5 532.54 L243.01 532.96 L244.53 533.39 L246.05 533.82 L247.57 534.25 L249.09 534.67 L250.61 535.1 L252.13 535.53 L253.65 535.98 L255.17 536.43 L256.69 536.9 L258.21 537.38 L259.73 537.89 L261.24 538.42 L262.76 538.97 L264.28 539.54 L265.8 540.14 L267.32 540.76 L268.84 541.41 L270.36 542.08 L271.88 542.78 L273.4 543.5 L274.92 544.25 L276.44 545.02 L277.96 545.83 L279.47 546.67 L280.99 547.55 L282.51 548.48 L284.03 549.46 L285.55 550.49 L287.07 551.56 L288.59 552.69 L290.11 553.86 L291.63 555.08 L293.15 556.35 L294.67 557.71 L296.19 559.16 L297.7 560.72 L299.22 562.42 L300.74 564.26 L302.26 566.38 L303.78 568.75 Q305.3 571.3 305.39 572.8 L311 665.2 L400.5 665.2"/>
<path stroke="#008080" d="M67.4 475.9 L68.93 476.18 L70.45 476.47 L71.98 476.77 L73.5 477.07 L75.03 477.37 L76.55 477.68 L78.08 477.99 L79.6 478.31 L81.12 478.63 L82.65 478.96 L84.18 479.29 L85.7 479.62 L87.23 479.96 L88.75 480.31 L90.28 480.65 L91.8 481.01 L93.33 481.37 L94.85 481.73 L96.38 482.1 L97.9 482.47 L99.43 482.85 L100.95 483.24 L102.47 483.63 L104 484.03 L105.53 484.43 L107.05 484.83 L108.58 485.25 L110.1 485.67 L111.62 486.09 L113.15 486.52 L114.68 486.96 L116.2 487.4 L117.72 487.85 L119.25 488.31 L120.78 488.77 L122.3 489.24 L123.83 489.72 L125.35 490.2 L126.88 490.68 L128.4 491.17 L129.93 491.66 L131.45 492.16 L132.98 492.68 L134.5 493.2 L139 521.29 L140.5 521.51 L142 521.73 L143.5 521.96 L145 522.2 L146.5 522.45 L148 522.71 L149.5 522.97 L151 523.25 L152.5 523.53 L154 523.81 L155.5 524.11 L157 524.41 L158.5 524.71 L160 525.03 L161.5 525.35 L163 525.68 L164.5 526.01 L166 526.36 L167.5 526.72 L169 527.08 L170.5 527.46 L172 527.84 L173.5 528.23 L175 528.63 L176.5 529.03 L178 529.44 L179.5 529.86 L181 530.29 L182.5 530.72 L184 531.16 L185.5 531.61 L187 532.08 L188.5 532.55 L190 533.03 L191.5 533.51 L193 534 L194.5 534.5 L196 535.01 L197.5 535.52 L199 536.04 L200.5 536.58 L202 537.12 L203.5 537.67 L205 538.23 L206.5 538.79 L208 539.37 L209.5 539.95 L211 540.54 L212.5 541.14 L214 541.73 L215.5 542.31 L217 542.89 L218.5 543.48 L220 544.08 L221.5 544.7 L223 545.35 L224.5 546.03 L226 546.76 L227.5 547.53 L229 548.37 L230.5 549.29 L232 550.3 L233.5 551.39 L235 552.56 L236.5 553.78 L238 555.11 L239.5 556.56 L241 558.12 L242.5 559.77 Q244 561.5 244.1 563 L251 665.2 L400.5 665.2"/>
<path stroke="#FF00FF" d="M67.4 517.6 L68.91 517.78 L70.41 517.97 L71.92 518.17 L73.42 518.38 L74.93 518.59 L76.44 518.82 L77.94 519.05 L79.45 519.28 L80.96 519.53 L82.46 519.78 L83.97 520.04 L85.47 520.32 L86.98 520.6 L88.49 520.9 L89.99 521.2 L91.5 521.51 L93 521.83 L94.51 522.15 L96.02 522.47 L97.52 522.79 L99.03 523.1 L100.54 523.43 L102.04 523.75 L103.55 524.09 L105.05 524.42 L106.56 524.76 L108.07 525.1 L109.57 525.45 L111.08 525.8 L112.59 526.15 L114.09 526.51 L115.6 526.86 L117.1 527.22 L118.61 527.58 L120.12 527.95 L121.62 528.32 L123.13 528.7 L124.63 529.08 L126.14 529.47 L127.65 529.87 L129.15 530.28 L130.66 530.71 L132.17 531.14 L133.67 531.57 L135.18 532.02 L136.68 532.47 L138.19 532.93 L139.7 533.41 L141.2 533.91 L142.71 534.42 L144.21 534.94 L145.72 535.49 L147.23 536.06 L148.73 536.65 L150.24 537.27 L151.75 537.91 L153.25 538.57 L154.76 539.26 L156.26 539.97 L157.77 540.71 L159.28 541.47 L160.78 542.26 L162.29 543.07 L163.8 543.91 L165.3 544.79 L166.81 545.73 L168.31 546.72 L169.82 547.76 L171.33 548.84 L172.83 549.95 L174.34 551.09 L175.84 552.3 L177.35 553.57 L178.86 554.9 L180.36 556.26 L181.87 557.65 L183.38 559.11 L184.88 560.75 L186.39 562.59 L187.89 564.61 Q189.4 566.8 189.49 568.3 L195.3 665.2 L400.5 665.2"/>
</g>
<path d="M66.6 8.3 H426.3 V300.2 H66.6 Z" fill="none" stroke="#000" stroke-width="3.1" stroke-linejoin="round"/>
<path d="M66.6 300.2 V305.8 M66.6 8.3 V13.7 M109.45 300.2 V303.2 M109.45 8.3 V10.9 M152.3 300.2 V305.8 M152.3 8.3 V13.7 M195.15 300.2 V303.2 M195.15 8.3 V10.9 M238 300.2 V305.8 M238 8.3 V13.7 M280.85 300.2 V303.2 M280.85 8.3 V10.9 M323.7 300.2 V305.8 M323.7 8.3 V13.7 M366.55 300.2 V303.2 M366.55 8.3 V10.9 M409.4 300.2 V305.8 M409.4 8.3 V13.7 M66.6 300.3 H60.9 M426.3 300.3 H420.8 M66.6 271.1 H63.4 M426.3 271.1 H423.4 M66.6 241.9 H60.9 M426.3 241.9 H420.8 M66.6 212.7 H63.4 M426.3 212.7 H423.4 M66.6 183.5 H60.9 M426.3 183.5 H420.8 M66.6 154.3 H63.4 M426.3 154.3 H423.4 M66.6 125.1 H60.9 M426.3 125.1 H420.8 M66.6 95.9 H63.4 M426.3 95.9 H423.4 M66.6 66.7 H60.9 M426.3 66.7 H420.8 M66.6 37.5 H63.4 M426.3 37.5 H423.4 M66.6 8.3 H60.9 M426.3 8.3 H420.8" stroke="#000" stroke-width="2.7" stroke-linecap="round" fill="none"/>
<path d="M67.5 374.4 H427.5 V666.4 H67.5 Z" fill="none" stroke="#000" stroke-width="3.1" stroke-linejoin="round"/>
<path d="M67.5 666.4 V672.2 M95.19 666.4 V669.2 M122.87 666.4 V672.2 M150.56 666.4 V669.2 M178.24 666.4 V672.2 M205.92 666.4 V669.2 M233.61 666.4 V672.2 M261.29 666.4 V669.2 M288.98 666.4 V672.2 M316.66 666.4 V669.2 M344.35 666.4 V672.2 M372.03 666.4 V669.2 M399.72 666.4 V672.2 M427.4 666.4 V669.2 M96.5 374.4 V377.2 M125.6 374.4 V380 M154.7 374.4 V377.2 M183.8 374.4 V380 M212.9 374.4 V377.2 M242 374.4 V380 M271.1 374.4 V377.2 M300.2 374.4 V380 M329.3 374.4 V377.2 M358.4 374.4 V380 M387.5 374.4 V377.2 M416.6 374.4 V380 M67.5 666.4 H62.2 M427.5 666.4 H422 M67.5 637.2 H64.4 M427.5 637.2 H424.6 M67.5 608 H62.2 M427.5 608 H422 M67.5 578.8 H64.4 M427.5 578.8 H424.6 M67.5 549.6 H62.2 M427.5 549.6 H422 M67.5 520.4 H64.4 M427.5 520.4 H424.6 M67.5 491.2 H62.2 M427.5 491.2 H422 M67.5 462 H64.4 M427.5 462 H424.6 M67.5 432.8 H62.2 M427.5 432.8 H422 M67.5 403.6 H64.4 M427.5 403.6 H424.6 M67.5 374.4 H62.2 M427.5 374.4 H422" stroke="#000" stroke-width="2.7" stroke-linecap="round" fill="none"/>
<text x="57.3" y="305.7" text-anchor="end" style="font-family:'Liberation Sans',Arial,sans-serif;stroke:#000;stroke-width:0.35px;font-size:20px">0.0</text>
<text x="57.3" y="247.3" text-anchor="end" style="font-family:'Liberation Sans',Arial,sans-serif;stroke:#000;stroke-width:0.35px;font-size:20px">0.1</text>
<text x="57.3" y="188.9" text-anchor="end" style="font-family:'Liberation Sans',Arial,sans-serif;stroke:#000;stroke-width:0.35px;font-size:20px">0.2</text>
<text x="57.3" y="130.5" text-anchor="end" style="font-family:'Liberation Sans',Arial,sans-serif;stroke:#000;stroke-width:0.35px;font-size:20px">0.3</text>
<text x="57.3" y="72.1" text-anchor="end" style="font-family:'Liberation Sans',Arial,sans-serif;stroke:#000;stroke-width:0.35px;font-size:20px">0.4</text>
<text x="57.3" y="13.7" text-anchor="end" style="font-family:'Liberation Sans',Arial,sans-serif;stroke:#000;stroke-width:0.35px;font-size:20px">0.5</text>
<text x="66.6" y="325.6" text-anchor="middle" style="font-family:'Liberation Sans',Arial,sans-serif;stroke:#000;stroke-width:0.35px;font-size:19.5px">0</text>
<text x="152.3" y="325.6" text-anchor="middle" style="font-family:'Liberation Sans',Arial,sans-serif;stroke:#000;stroke-width:0.35px;font-size:19.5px">100</text>
<text x="238" y="325.6" text-anchor="middle" style="font-family:'Liberation Sans',Arial,sans-serif;stroke:#000;stroke-width:0.35px;font-size:19.5px">200</text>
<text x="323.7" y="325.6" text-anchor="middle" style="font-family:'Liberation Sans',Arial,sans-serif;stroke:#000;stroke-width:0.35px;font-size:19.5px">300</text>
<text x="409.4" y="325.6" text-anchor="middle" style="font-family:'Liberation Sans',Arial,sans-serif;stroke:#000;stroke-width:0.35px;font-size:19.5px">400</text>
<text x="146.4" y="347.4" style="font-family:'Liberation Sans',Arial,sans-serif;stroke:#000;stroke-width:0.35px;font-size:25.5px">Temperature ( K )</text>
<text transform="translate(25 254) rotate(-90) scale(1.008 1)" style="font-family:'Liberation Sans',Arial,sans-serif;stroke:#000;stroke-width:0.35px;font-size:25.5px">Polarization ( C/m<tspan dy="-14" style="font-size:15px">2</tspan><tspan dy="14"> )</tspan></text>
<text x="231.4" y="53.8" style="font-family:'Liberation Sans',Arial,sans-serif;stroke:#000;stroke-width:0.35px;font-size:19.15px">Pressure Unit: GPa</text>
<text x="76" y="284.4" style="font-family:'Liberation Serif','Times New Roman',serif;stroke:#000;stroke-width:0.3px;font-size:20px">(a)</text>
<text transform="translate(467.5 25.7) scale(0.88 1)" style="font-family:'Liberation Serif','Times New Roman',serif;stroke:#000;stroke-width:0.3px;font-size:15.5px;font-weight:bold">p=0.0</text>
<text transform="translate(467.5 43.2) scale(0.88 1)" style="font-family:'Liberation Serif','Times New Roman',serif;stroke:#000;stroke-width:0.3px;font-size:15.5px;font-weight:bold">0.5</text>
<text transform="translate(467.5 60.7) scale(0.88 1)" style="font-family:'Liberation Serif','Times New Roman',serif;stroke:#000;stroke-width:0.3px;font-size:15.5px;font-weight:bold">1.0</text>
<text transform="translate(467.5 78.2) scale(0.88 1)" style="font-family:'Liberation Serif','Times New Roman',serif;stroke:#000;stroke-width:0.3px;font-size:15.5px;font-weight:bold">1.5</text>
<text transform="translate(467.5 95.7) scale(0.88 1)" style="font-family:'Liberation Serif','Times New Roman',serif;stroke:#000;stroke-width:0.3px;font-size:15.5px;font-weight:bold">2.0</text>
<text transform="translate(467.5 113.2) scale(0.88 1)" style="font-family:'Liberation Serif','Times New Roman',serif;stroke:#000;stroke-width:0.3px;font-size:15.5px;font-weight:bold">2.5</text>
<text transform="translate(467.5 130.7) scale(0.88 1)" style="font-family:'Liberation Serif','Times New Roman',serif;stroke:#000;stroke-width:0.3px;font-size:15.5px;font-weight:bold">3.0</text>
<text transform="translate(467.5 148.2) scale(0.88 1)" style="font-family:'Liberation Serif','Times New Roman',serif;stroke:#000;stroke-width:0.3px;font-size:15.5px;font-weight:bold">3.5</text>
<text transform="translate(467.5 165.7) scale(0.88 1)" style="font-family:'Liberation Serif','Times New Roman',serif;stroke:#000;stroke-width:0.3px;font-size:15.5px;font-weight:bold">4.0</text>
<text transform="translate(467.5 183.2) scale(0.88 1)" style="font-family:'Liberation Serif','Times New Roman',serif;stroke:#000;stroke-width:0.3px;font-size:15.5px;font-weight:bold">4.5</text>
<text transform="translate(467.5 200.7) scale(0.88 1)" style="font-family:'Liberation Serif','Times New Roman',serif;stroke:#000;stroke-width:0.3px;font-size:15.5px;font-weight:bold">5.0</text>
<text transform="translate(467.5 218.2) scale(0.88 1)" style="font-family:'Liberation Serif','Times New Roman',serif;stroke:#000;stroke-width:0.3px;font-size:15.5px;font-weight:bold">5.5</text>
<text transform="translate(467.5 235.7) scale(0.88 1)" style="font-family:'Liberation Serif','Times New Roman',serif;stroke:#000;stroke-width:0.3px;font-size:15.5px;font-weight:bold">p=6.0</text>
<path d="M432.7 19.9 H463.9" stroke="#000000" stroke-width="3" stroke-linecap="round"/>
<path d="M432.7 37.4 H463.9" stroke="#FF0000" stroke-width="3" stroke-linecap="round"/>
<path d="M432.7 54.9 H463.9" stroke="#0000FF" stroke-width="3" stroke-linecap="round"/>
<path d="M432.7 72.4 H463.9" stroke="#008080" stroke-width="3" stroke-linecap="round"/>
<path d="M432.7 89.9 H463.9" stroke="#FF00FF" stroke-width="3" stroke-linecap="round"/>
<path d="M432.7 107.4 H463.9" stroke="#808000" stroke-width="3" stroke-linecap="round"/>
<path d="M432.7 124.9 H463.9" stroke="#000080" stroke-width="3" stroke-linecap="round"/>
<path d="M432.7 142.4 H463.9" stroke="#800000" stroke-width="3" stroke-linecap="round"/>
<path d="M432.7 159.9 H463.9" stroke="#FF0080" stroke-width="3" stroke-linecap="round"/>
<path d="M432.7 177.4 H463.9" stroke="#008000" stroke-width="3" stroke-linecap="round"/>
<path d="M432.7 194.9 H463.9" stroke="#0000A0" stroke-width="3" stroke-linecap="round"/>
<path d="M432.7 212.4 H463.9" stroke="#FF8000" stroke-width="3" stroke-linecap="round"/>
<path d="M432.7 229.9 H463.9" stroke="#800080" stroke-width="3" stroke-linecap="round"/>
<text x="58" y="672.4" text-anchor="end" style="font-family:'Liberation Sans',Arial,sans-serif;stroke:#000;stroke-width:0.35px;font-size:18px">0.0</text>
<text x="58" y="614" text-anchor="end" style="font-family:'Liberation Sans',Arial,sans-serif;stroke:#000;stroke-width:0.35px;font-size:18px">0.1</text>
<text x="58" y="555.6" text-anchor="end" style="font-family:'Liberation Sans',Arial,sans-serif;stroke:#000;stroke-width:0.35px;font-size:18px">0.2</text>
<text x="58" y="497.2" text-anchor="end" style="font-family:'Liberation Sans',Arial,sans-serif;stroke:#000;stroke-width:0.35px;font-size:18px">0.3</text>
<text x="58" y="438.8" text-anchor="end" style="font-family:'Liberation Sans',Arial,sans-serif;stroke:#000;stroke-width:0.35px;font-size:18px">0.4</text>
<text x="58" y="380.4" text-anchor="end" style="font-family:'Liberation Sans',Arial,sans-serif;stroke:#000;stroke-width:0.35px;font-size:18px">0.5</text>
<text x="68" y="691.2" text-anchor="middle" style="font-family:'Liberation Sans',Arial,sans-serif;stroke:#000;stroke-width:0.35px;font-size:18px">0</text>
<text x="123.37" y="691.2" text-anchor="middle" style="font-family:'Liberation Sans',Arial,sans-serif;stroke:#000;stroke-width:0.35px;font-size:18px">1</text>
<text x="178.74" y="691.2" text-anchor="middle" style="font-family:'Liberation Sans',Arial,sans-serif;stroke:#000;stroke-width:0.35px;font-size:18px">2</text>
<text x="234.11" y="691.2" text-anchor="middle" style="font-family:'Liberation Sans',Arial,sans-serif;stroke:#000;stroke-width:0.35px;font-size:18px">3</text>
<text x="289.48" y="691.2" text-anchor="middle" style="font-family:'Liberation Sans',Arial,sans-serif;stroke:#000;stroke-width:0.35px;font-size:18px">4</text>
<text x="344.85" y="691.2" text-anchor="middle" style="font-family:'Liberation Sans',Arial,sans-serif;stroke:#000;stroke-width:0.35px;font-size:18px">5</text>
<text x="400.22" y="691.2" text-anchor="middle" style="font-family:'Liberation Sans',Arial,sans-serif;stroke:#000;stroke-width:0.35px;font-size:18px">6</text>
<text x="162" y="710.8" style="font-family:'Liberation Sans',Arial,sans-serif;stroke:#000;stroke-width:0.35px;font-size:23px">Pressure ( GPa )</text>
<text transform="translate(25 631) rotate(-90) scale(1.01 1)" style="font-family:'Liberation Sans',Arial,sans-serif;stroke:#000;stroke-width:0.35px;font-size:23px">Polarization ( C/m<tspan dy="-12.5" style="font-size:13.5px">2</tspan><tspan dy="12.5"> )</tspan></text>
<text x="74.6" y="650" style="font-family:'Liberation Serif','Times New Roman',serif;stroke:#000;stroke-width:0.3px;font-size:20px">(b)</text>
<path d="M341.8 400 H372.3" stroke="#000000" stroke-width="3" stroke-linecap="round"/>
<text transform="translate(376.8 404.6) scale(0.84 1)" style="font-family:'Liberation Serif','Times New Roman',serif;stroke:#000;stroke-width:0.3px;font-size:16.5px;font-weight:bold">100K</text>
<path d="M341.8 417.2 H372.3" stroke="#FF0000" stroke-width="3" stroke-linecap="round"/>
<text transform="translate(376.8 421.8) scale(0.84 1)" style="font-family:'Liberation Serif','Times New Roman',serif;stroke:#000;stroke-width:0.3px;font-size:16.5px;font-weight:bold">150K</text>
<path d="M341.8 434.4 H372.3" stroke="#0000FF" stroke-width="3" stroke-linecap="round"/>
<text transform="translate(376.8 439) scale(0.84 1)" style="font-family:'Liberation Serif','Times New Roman',serif;stroke:#000;stroke-width:0.3px;font-size:16.5px;font-weight:bold">200K</text>
<path d="M341.8 451.6 H372.3" stroke="#008080" stroke-width="3" stroke-linecap="round"/>
<text transform="translate(376.8 456.2) scale(0.84 1)" style="font-family:'Liberation Serif','Times New Roman',serif;stroke:#000;stroke-width:0.3px;font-size:16.5px;font-weight:bold">250K</text>
<path d="M341.8 468.8 H372.3" stroke="#FF00FF" stroke-width="3" stroke-linecap="round"/>
<text transform="translate(376.8 473.4) scale(0.84 1)" style="font-family:'Liberation Serif','Times New Roman',serif;stroke:#000;stroke-width:0.3px;font-size:16.5px;font-weight:bold">300K</text>
</svg></body></html>
